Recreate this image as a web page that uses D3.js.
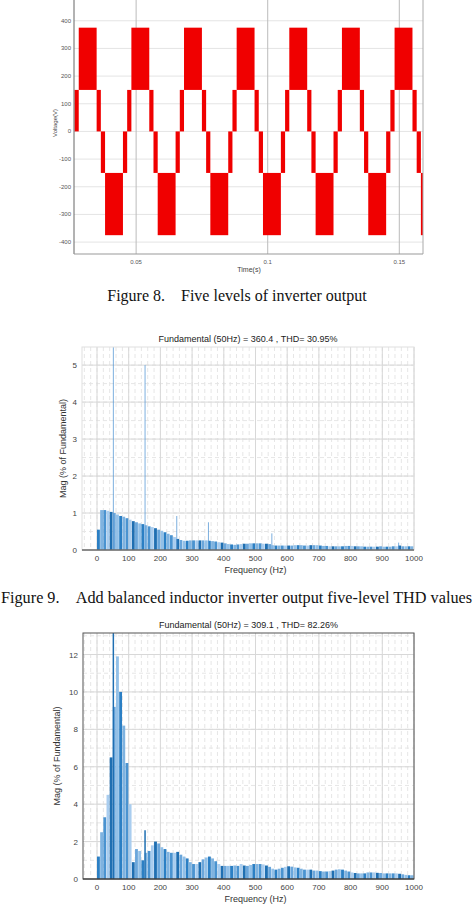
<!DOCTYPE html>
<html lang="en">
<head>
  <meta charset="UTF-8">
  <title>Inverter output</title>
  <style>
    body { margin: 0; background: #fff; }
    svg { display: block; }
  </style>
</head>
<body>
  <div id="svg"></div>
  <script src="https://d3js.org/d3.v7.min.js"></script>
  <script>
    // figure 8: one period of the five-level waveform (fraction of period, low, high level)
    const segFrac = [0, 0.08, 0.42, 0.5, 0.58, 0.92, 1]
    const segLow = [0, 150, 0, -150, -375, -150]
    const segHigh = [150, 375, 150, 0, -150, 0]
    const period = 0.02
    const waveStart = 0.0266
    const timeTicks = [0.05, 0.1, 0.15]
    const timeTickLabels = ['0.05', '0.1', '0.15']
    const voltTicks = [-400, -300, -200, -100, 0, 100, 200, 300, 400]

    // figure 9: spectrum with balanced inductor (10 Hz bins, 0..1000 Hz)
    const freqs = d3.range(0, 1001, 10)
    const magBalanced = [0.55, 1.08, 1.08, 1.06, 1.03, 1.0, 0.96, 0.92, 0.9, 0.86,
      0.82, 0.78, 0.75, 0.72, 0.7, 0.67, 0.64, 0.62, 0.59, 0.55,
      0.52, 0.48, 0.44, 0.4, 0.35, 0.3, 0.27, 0.25, 0.25, 0.26,
      0.26, 0.26, 0.26, 0.26, 0.26, 0.25, 0.24, 0.23, 0.21, 0.2,
      0.18, 0.16, 0.15, 0.14, 0.15, 0.16, 0.17, 0.17, 0.18, 0.18,
      0.18, 0.18, 0.17, 0.17, 0.16, 0.13, 0.12, 0.12, 0.12, 0.12,
      0.12, 0.12, 0.13, 0.13, 0.13, 0.12, 0.12, 0.13, 0.13, 0.13,
      0.12, 0.11, 0.11, 0.1, 0.1, 0.1, 0.1, 0.1, 0.11, 0.11,
      0.11, 0.1, 0.1, 0.1, 0.09, 0.09, 0.09, 0.09, 0.09, 0.1,
      0.09, 0.09, 0.09, 0.1, 0.1, 0.12, 0.1, 0.1, 0.1, 0.1, 0.1]
    const spikeFreqBalanced = [50, 150, 250, 350, 550, 950]
    const spikeMagBalanced = [6, 5, 0.92, 0.75, 0.45, 0.2]

    // figure 10: spectrum without balanced inductor
    const magPlain = [1.2, 2.5, 3.3, 4.5, 6.5, 9.2, 11.9, 10.0, 8.2, 6.2,
      4.0, 0.9, 1.6, 1.5, 1.0, 1.4, 1.5, 1.8, 2.0, 1.9,
      1.7, 1.6, 1.45, 1.4, 1.4, 1.45, 1.3, 1.2, 1.1, 0.9,
      0.8, 0.8, 0.9, 1.05, 1.15, 1.2, 1.1, 0.95, 0.8, 0.7,
      0.7, 0.7, 0.7, 0.72, 0.7, 0.8, 0.72, 0.7, 0.75, 0.8,
      0.8, 0.8, 0.78, 0.72, 0.65, 0.55, 0.5, 0.55, 0.6, 0.65,
      0.68, 0.66, 0.62, 0.6, 0.55, 0.5, 0.5, 0.5, 0.45, 0.45,
      0.42, 0.4, 0.4, 0.42, 0.45, 0.5, 0.52, 0.5, 0.45, 0.4,
      0.35, 0.32, 0.3, 0.3, 0.3, 0.35, 0.35, 0.35, 0.33, 0.32,
      0.3, 0.3, 0.3, 0.3, 0.3, 0.28, 0.25, 0.22, 0.2, 0.2, 0.2]
    const spikeFreqPlain = [50, 150]
    const spikeMagPlain = [13.2, 2.6]

    const shades = ['#2b7fc4', '#7fb3e0', '#4a93d0', '#a9cdef', '#1f6fb2', '#6aa6db', '#92c0e8']

    const width = 474
    const height = 909
    const svg = d3.select('#svg').append('svg').attr('width', width).attr('height', height)
    const sans = 'Liberation Sans, Arial, sans-serif'
    const serif = 'Liberation Serif, Times New Roman, serif'

    // ---------- figure 8 ----------
    const p8 = { left: 74, right: 423, top: 0, bottom: 254 }
    const xT = d3.scaleLinear().domain([0.0264, 0.159]).range([p8.left, p8.right])
    const yV = d3.scaleLinear().domain([-443, 475]).range([p8.bottom, p8.top])
    svg.append('clipPath').attr('id', 'c8').append('rect')
      .attr('x', p8.left).attr('y', p8.top).attr('width', p8.right - p8.left).attr('height', p8.bottom - p8.top)

    const g8 = svg.append('g')
    g8.selectAll('.hg').data(voltTicks).enter().append('line')
      .attr('x1', p8.left).attr('x2', p8.right).attr('y1', d => yV(d)).attr('y2', d => yV(d))
      .attr('stroke', '#e4e4e4')
    g8.selectAll('.vg').data(timeTicks).enter().append('line')
      .attr('y1', p8.top).attr('y2', p8.bottom).attr('x1', d => xT(d)).attr('x2', d => xT(d))
      .attr('stroke', '#bbb')

    const rects = []
    for (let k = 0; k < 7; k++) {
      const t0 = waveStart + k * period
      for (let i = 0; i < segLow.length; i++) {
        rects.push({ t1: t0 + segFrac[i] * period, t2: t0 + segFrac[i + 1] * period, lo: segLow[i], hi: segHigh[i] })
      }
    }
    g8.append('g').attr('clip-path', 'url(#c8)').selectAll('rect').data(rects).enter().append('rect')
      .attr('x', d => xT(d.t1)).attr('width', d => xT(d.t2) - xT(d.t1))
      .attr('y', d => yV(d.hi)).attr('height', d => yV(d.lo) - yV(d.hi))
      .attr('fill', '#f00000')

    g8.append('line').attr('x1', p8.left).attr('x2', p8.left).attr('y1', p8.top).attr('y2', p8.bottom).attr('stroke', '#666')
    g8.append('line').attr('x1', p8.right).attr('x2', p8.right).attr('y1', p8.top).attr('y2', p8.bottom).attr('stroke', '#aaa')
    g8.append('line').attr('x1', p8.left).attr('x2', p8.right).attr('y1', p8.bottom).attr('y2', p8.bottom).attr('stroke', '#999')
    g8.selectAll('.yl').data(voltTicks).enter().append('text')
      .attr('x', p8.left - 3).attr('y', d => yV(d) + 2).attr('text-anchor', 'end')
      .attr('font-family', sans).attr('font-size', 6).attr('fill', '#555').text(d => d)
    g8.selectAll('.xl').data(timeTicks).enter().append('text')
      .attr('x', d => xT(d)).attr('y', 264).attr('text-anchor', 'middle')
      .attr('font-family', sans).attr('font-size', 6).attr('fill', '#555').text((d, i) => timeTickLabels[i])
    g8.append('text').attr('x', 249).attr('y', 272).attr('text-anchor', 'middle')
      .attr('font-family', sans).attr('font-size', 7).attr('fill', '#444').text('Time(s)')
    g8.append('text').attr('transform', 'translate(57,123) rotate(-90)').attr('text-anchor', 'middle')
      .attr('font-family', sans).attr('font-size', 6).attr('fill', '#444').text('Voltage(V)')
    svg.append('text').attr('x', 237).attr('y', 301).attr('text-anchor', 'middle')
      .attr('font-family', serif).attr('font-size', 16).attr('fill', '#111')
      .text('Figure 8.\u00a0\u00a0\u00a0\u00a0Five levels of inverter output')

    // ---------- spectrum helper ----------
    function spectrum(o) {
      const g = svg.append('g')
      const x = d3.scaleLinear().domain([0, 1000]).range([o.x0, o.x1])
      const y = d3.scaleLinear().domain([0, o.ymax]).range([o.bottom, o.top])
      const clipId = 'clip' + o.id
      svg.append('clipPath').attr('id', clipId).append('rect')
        .attr('x', o.left).attr('y', o.top).attr('width', o.x1 - o.left).attr('height', o.bottom - o.top)

      // minor dashed grid
      g.selectAll('.mx').data(d3.range(-40, 1001, 20)).enter().append('line')
        .attr('x1', d => x(d)).attr('x2', d => x(d)).attr('y1', o.top).attr('y2', o.bottom)
        .attr('stroke', '#e6e6e6').attr('stroke-dasharray', '4,3')
      g.selectAll('.my').data(d3.range(0, o.ymax, o.minor)).enter().append('line')
        .attr('x1', o.left).attr('x2', o.x1).attr('y1', d => y(d)).attr('y2', d => y(d))
        .attr('stroke', '#e6e6e6').attr('stroke-dasharray', '4,3')
      // major grid
      g.selectAll('.gx').data(d3.range(0, 1001, 100)).enter().append('line')
        .attr('x1', d => x(d)).attr('x2', d => x(d)).attr('y1', o.top).attr('y2', o.bottom)
        .attr('stroke', '#d8d8d8')
      g.selectAll('.gy').data(o.yticks).enter().append('line')
        .attr('x1', o.left).attr('x2', o.x1).attr('y1', d => y(d)).attr('y2', d => y(d))
        .attr('stroke', '#d8d8d8')

      const bars = g.append('g').attr('clip-path', `url(#${clipId})`)
      const bw = (x(10) - x(0)) * 0.9
      bars.selectAll('rect').data(o.mag).enter().append('rect')
        .attr('x', (d, i) => x(freqs[i]))
        .attr('width', bw)
        .attr('y', d => y(d)).attr('height', d => o.bottom - y(d))
        .attr('fill', (d, i) => shades[i % shades.length])
      bars.selectAll('line').data(o.spikeF).enter().append('line')
        .attr('x1', d => x(d) + 0.5).attr('x2', d => x(d) + 0.5)
        .attr('y1', o.bottom).attr('y2', (d, i) => y(o.spikeM[i]))
        .attr('stroke', o.spikeColor).attr('stroke-width', o.spikeWidth)

      g.append('rect').attr('x', o.left).attr('y', o.top).attr('width', o.x1 - o.left).attr('height', o.bottom - o.top)
        .attr('fill', 'none').attr('stroke', o.frame)
      g.append('line').attr('x1', o.left).attr('x2', o.x1).attr('y1', o.bottom).attr('y2', o.bottom).attr('stroke', '#333')

      g.selectAll('.xl').data(d3.range(0, 1001, 100)).enter().append('text')
        .attr('x', d => x(d)).attr('y', o.bottom + 11).attr('text-anchor', 'middle')
        .attr('font-family', sans).attr('font-size', 8).attr('fill', '#444').text(d => d)
      g.selectAll('.yl').data(o.yticks).enter().append('text')
        .attr('x', o.left - 5).attr('y', d => y(d) + 3).attr('text-anchor', 'end')
        .attr('font-family', sans).attr('font-size', 8).attr('fill', '#444').text(d => d)
      g.append('text').attr('x', (o.x0 + o.x1) / 2).attr('y', o.bottom + 23).attr('text-anchor', 'middle')
        .attr('font-family', sans).attr('font-size', 9).attr('fill', '#333').text('Frequency (Hz)')
      g.append('text').attr('transform', `translate(${o.ylabelX},${(o.top + o.bottom) / 2}) rotate(-90)`)
        .attr('text-anchor', 'middle').attr('font-family', sans).attr('font-size', 9).attr('fill', '#333')
        .text(o.ylabel)
      g.append('text').attr('x', (o.left + o.x1) / 2).attr('y', o.top - 5).attr('text-anchor', 'middle')
        .attr('font-family', sans).attr('font-size', 9).attr('fill', '#222').text(o.title)
    }

    spectrum({
      id: 9, left: 82, x0: 97, x1: 414, top: 347, bottom: 550, ymax: 5.49,
      yticks: [0, 1, 2, 3, 4, 5], minor: 0.5, mag: magBalanced,
      spikeF: spikeFreqBalanced, spikeM: spikeMagBalanced, spikeColor: '#5b9bd5', spikeWidth: 0.8,
      frame: '#e0e0e0', ylabelX: 66, ylabel: 'Mag (% of Fundamental)',
      title: 'Fundamental (50Hz) = 360.4 , THD= 30.95%'
    })
    svg.append('text').attr('x', 1).attr('y', 603).attr('text-anchor', 'start')
      .attr('font-family', serif).attr('font-size', 16).attr('fill', '#111')
      .attr('textLength', 471).attr('lengthAdjust', 'spacingAndGlyphs')
      .text('Figure 9.\u00a0\u00a0\u00a0\u00a0Add balanced inductor inverter output five-level THD values')

    spectrum({
      id: 10, left: 83, x0: 97, x1: 414, top: 633, bottom: 879, ymax: 13.15,
      yticks: [0, 2, 4, 6, 8, 10, 12], minor: 1, mag: magPlain,
      spikeF: spikeFreqPlain, spikeM: spikeMagPlain, spikeColor: '#1f6fb2', spikeWidth: 1.5,
      frame: '#555', ylabelX: 60, ylabel: 'Mag (% of Fundamental)',
      title: 'Fundamental (50Hz) = 309.1 , THD= 82.26%'
    })
  </script>
</body>
</html>
